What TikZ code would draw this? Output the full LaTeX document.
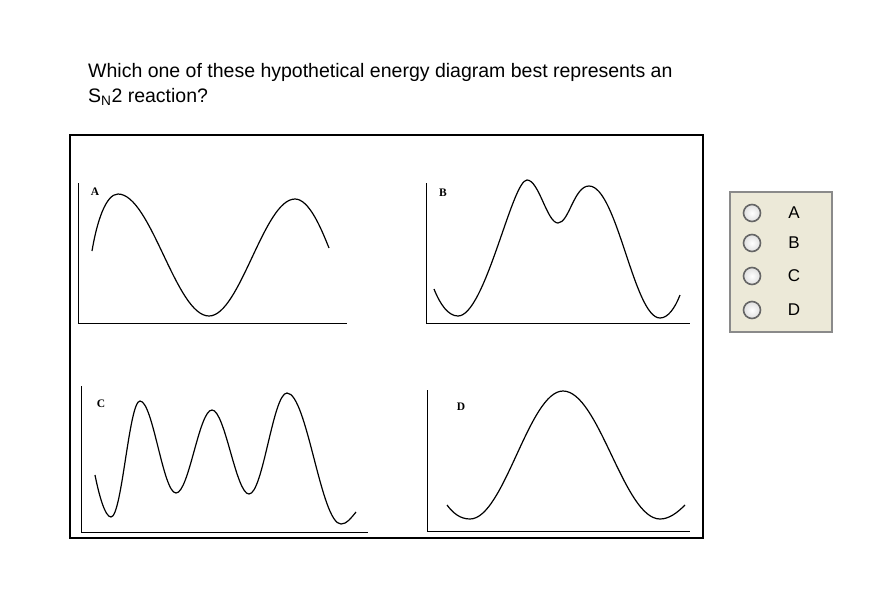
\documentclass[tikz,border=0pt]{standalone}
\usepackage{fontspec}
\setmainfont{Liberation Sans}
\newfontfamily\lblfont{Liberation Serif}
\definecolor{panelbg}{HTML}{ECE9D8}
\definecolor{panelbd}{HTML}{8A8A8A}
\begin{document}
\begin{tikzpicture}[x=1pt,y=-1pt,
  axis/.style={line width=1pt},
  curve/.style={line width=1.2pt},
  lbl/.style={font=\lblfont\fontsize{11.5}{13}\selectfont\bfseries,inner sep=0},
  radio/.style={circle,draw=gray!80!black,line width=1.6pt,minimum size=17pt,inner sep=0,
    inner color=white,outer color=gray!25},
  opt/.style={font=\fontsize{17}{20}\selectfont,inner sep=0}]
\useasboundingbox (0,0) rectangle (896,611);
\fill[white] (0,0) rectangle (896,611);
\node[anchor=base west,inner sep=0,font=\fontsize{19.5}{23}\selectfont] (q1) at (88,77) {Which one of these hypothetical energy diagram best represents an};
\node[anchor=base west,inner sep=0,font=\fontsize{19.5}{23}\selectfont] (q2) at (88,102) {S\textsubscript{N}2 reaction?};
\draw[line width=1.2pt] (70,135) rectangle (703,538);
% A
\draw[axis] (78,183) -- (78,323) -- (347,323);
\node[lbl] (la) at (95,192) {A};
\draw[curve] (92,251) .. controls +(5,-30) and +(-12,0) .. (118,194)
  .. controls +(33,0) and +(-33,0) .. (209,316)
  .. controls +(31,0) and +(-31,0) .. (295,199)
  .. controls +(14,0) and +(-8,-20) .. (329,248);
% B
\draw[axis] (426,183) -- (426,323) -- (690,323);
\node[lbl] (lb) at (443,193) {B};
\draw[curve] (434,289) .. controls +(6,15) and +(-10,0) .. (458,316)
  .. controls +(27,0) and +(-15,0) .. (527,180)
  .. controls +(12,0) and +(-11,0) .. (558,223)
  .. controls +(11,0) and +(-15,0) .. (589,186)
  .. controls +(28,0) and +(-26,0) .. (660,318)
  .. controls +(8,0) and +(-5,13) .. (680,295);
% C
\draw[axis] (81,386) -- (81,532) -- (368,532);
\node[lbl] (lc) at (101,404) {C};
\draw[curve] (95,475) .. controls +(4,20) and +(-6,0) .. (111,517)
  .. controls +(11,0) and +(-11,0) .. (140,401)
  .. controls +(13,0) and +(-13,0) .. (176,493)
  .. controls +(13,0) and +(-13,0) .. (212,410)
  .. controls +(13,0) and +(-13,0) .. (249,494)
  .. controls +(14,0) and +(-14,0) .. (287,393)
  .. controls +(20,0) and +(-20,0) .. (341,524)
  .. controls +(6,0) and +(-5,6) .. (356,512);
% D
\draw[axis] (427,390) -- (427,531) -- (690,531);
\node[lbl] (ld) at (461,407) {D};
\draw[curve] (447,505) .. controls +(6,8) and +(-10,0) .. (470,519)
  .. controls +(34,0) and +(-34,0) .. (563,391)
  .. controls +(36,0) and +(-36,0) .. (660,519)
  .. controls +(9,0) and +(-8,8) .. (685,505);
% panel
\draw[panelbd,fill=panelbg,line width=1.5pt] (730,192) rectangle (832,332);
\foreach \y/\t [count=\i] in {213/A,243/B,276/C,310/D}{
  \node[radio] (r\i) at (752,\y) {};
  \node[opt] (o\i) at (794,\y) {\t};
}
\end{tikzpicture}
\end{document}
